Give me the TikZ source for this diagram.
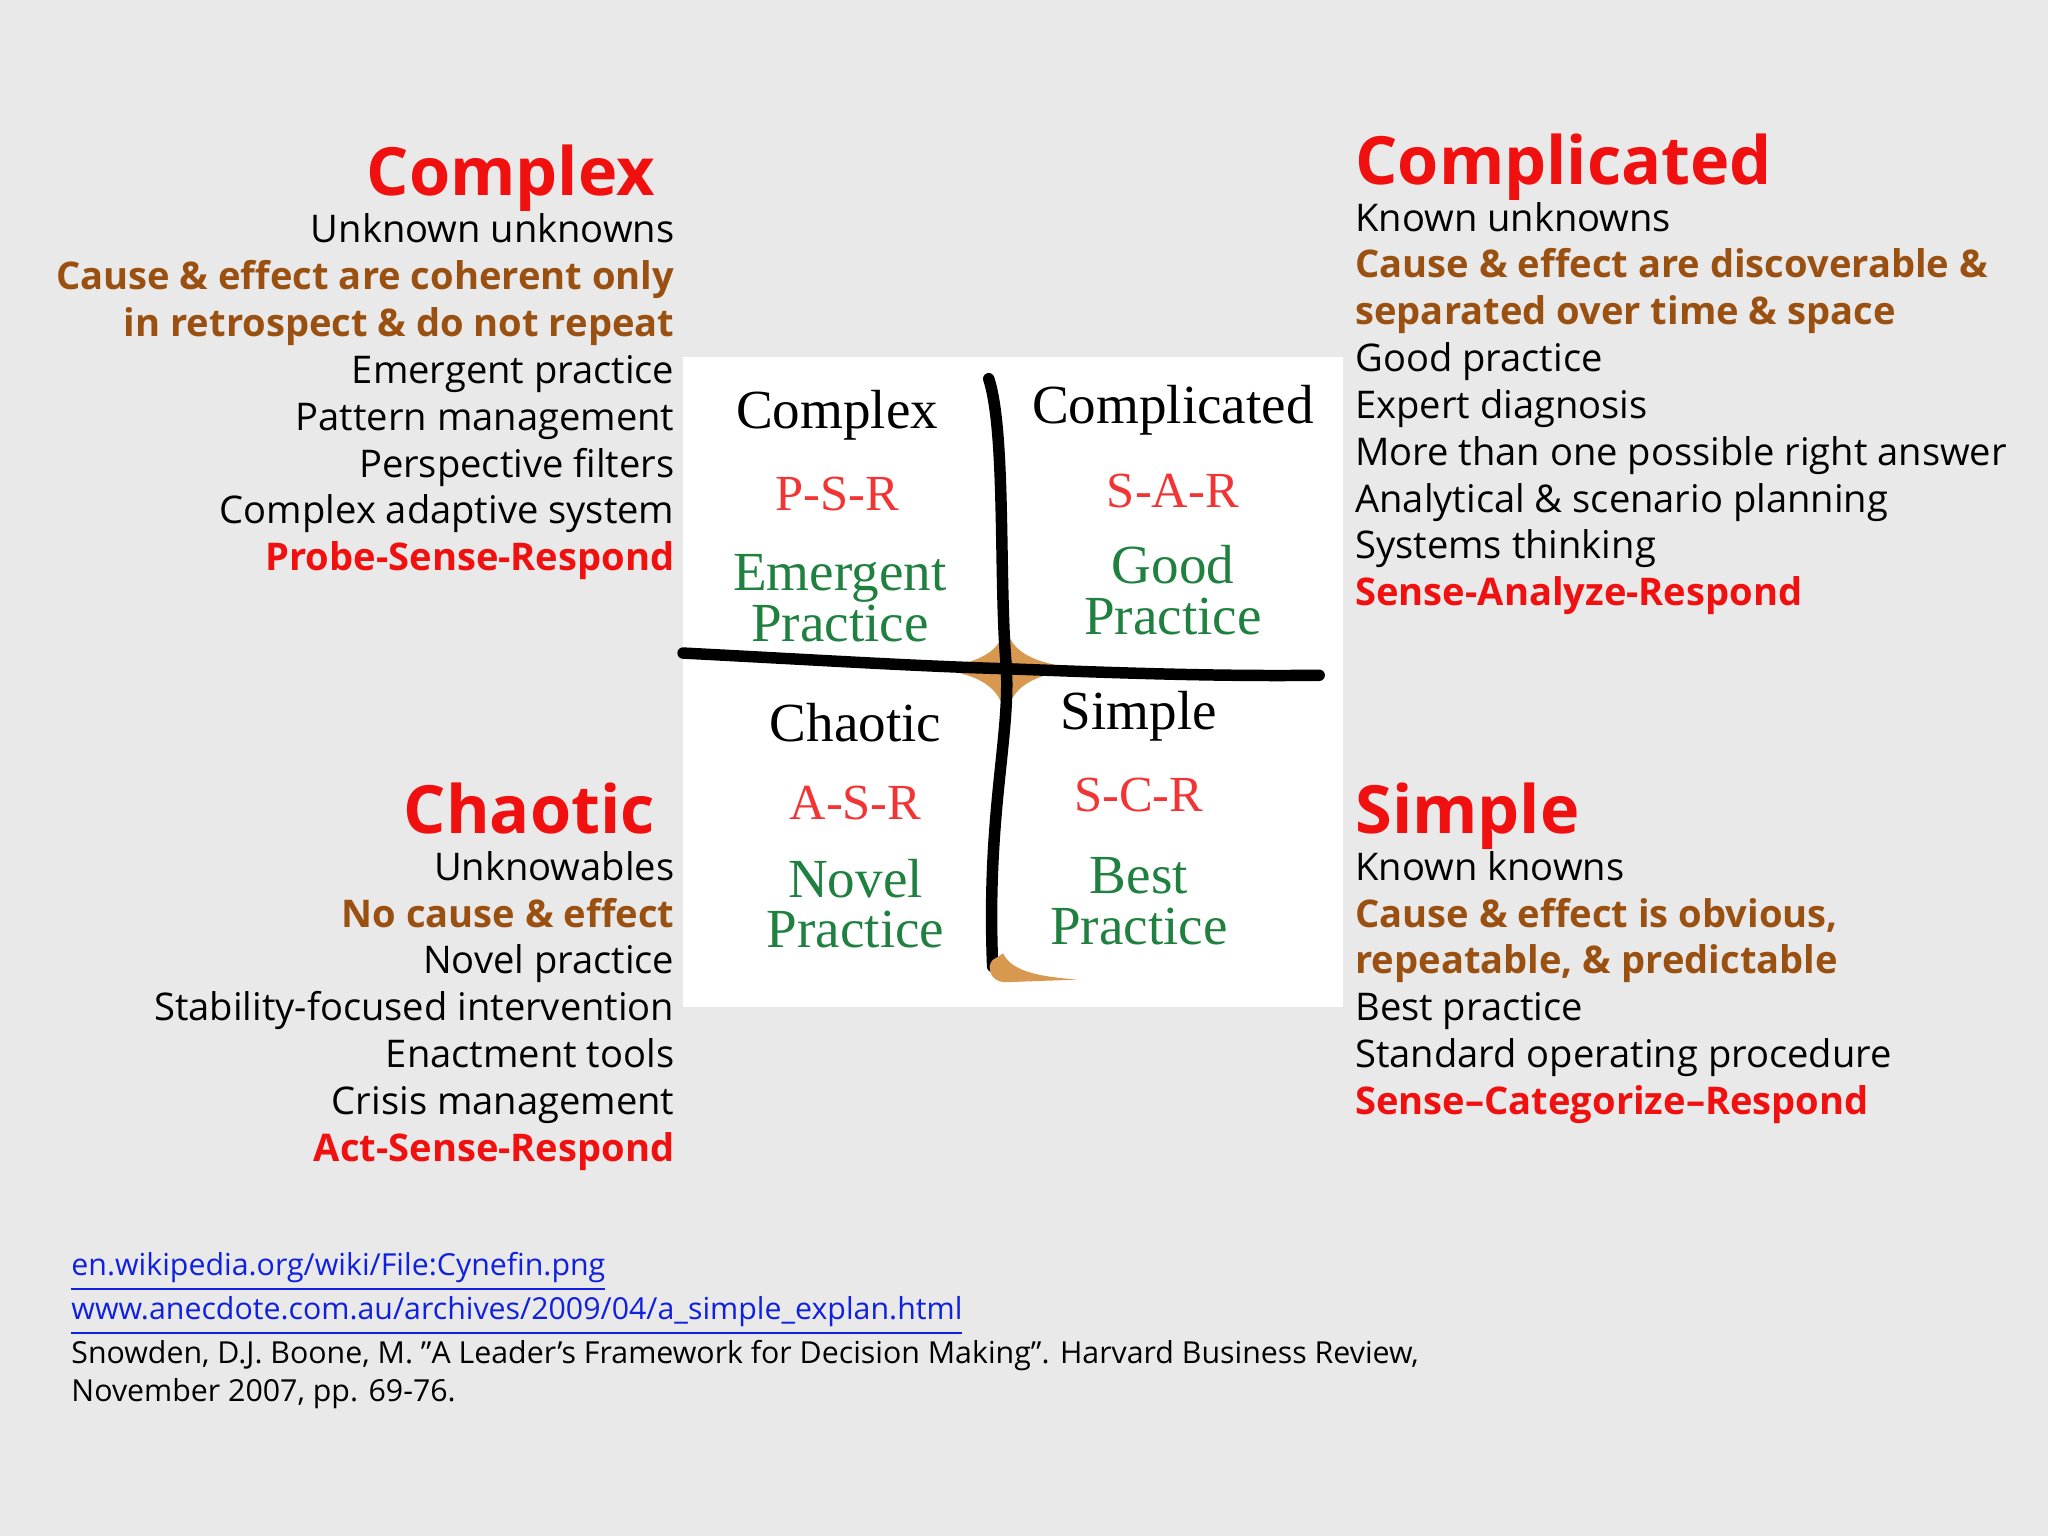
\documentclass[tikz,border=0pt]{standalone}
\usepackage{fontspec}
\setmainfont{Open Sans}
\newfontfamily\hand{Liberation Serif}
\definecolor{bg}{HTML}{E9E9E9}
\definecolor{hred}{HTML}{F01010}
\definecolor{brn}{HTML}{9A5010}
\definecolor{grn}{HTML}{208040}
\definecolor{lnk}{HTML}{1020E0}
\definecolor{orn}{HTML}{D89850}
\tikzset{
 ltxt/.style={anchor=north east,align=right,font=\fontsize{8.3}{10.2}\selectfont,inner sep=0},
 rtxt/.style={anchor=north west,align=left,font=\fontsize{8.3}{10.2}\selectfont,inner sep=0},
 head/.style={text=hred,font=\fontsize{14.5}{16}\selectfont\bfseries,inner sep=0},
 dom/.style={font=\hand\fontsize{12}{12}\selectfont,align=center},
 abbr/.style={font=\hand\fontsize{11}{11}\selectfont,text=hred!85},
 prac/.style={font=\hand\fontsize{12}{11}\selectfont,align=center,text=grn},
}
\begin{document}
\begin{tikzpicture}[x=0.01cm,y=-0.01cm]
\fill[bg] (0,0) rectangle (1568,1176);
\useasboundingbox (0,0) rectangle (1568,1176);
% center picture
\fill[white] (523,273) rectangle (1028,771);
\fill[orn] (770,480) .. controls (775,500) and (790,507) .. (825,512) .. controls (790,517) and (775,525) .. (770,548) .. controls (765,525) and (750,517) .. (718,512) .. controls (750,507) and (765,500) .. (770,480) -- cycle;
\draw[line width=2.5pt,line cap=round] (757,290) .. controls (770,330) and (765,440) .. (770,505) .. controls (775,560) and (755,620) .. (760,740);
\draw[line width=2.5pt,line cap=round] (523,500) .. controls (620,505) and (700,510) .. (770,512) .. controls (850,515) and (930,518) .. (1010,517);
\fill[orn] (760,735) .. controls (755,740) and (758,752) .. (770,752) -- (825,750) .. controls (800,748) and (775,745) .. (768,730) -- cycle;
\node[dom] (dcx) at (641,318) {Complex};
\node[abbr] (acx) at (641,378) {P-S-R};
\node[prac] (pcx) at (643,458) {Emergent\\Practice};
\node[dom] (dcd) at (898,314) {Complicated};
\node[abbr] (acd) at (898,376) {S-A-R};
\node[prac] (pcd) at (898,452) {Good\\Practice};
\node[dom] (dch) at (655,553) {Chaotic};
\node[abbr] (ach) at (655,615) {A-S-R};
\node[prac] (pch) at (655,692) {Novel\\Practice};
\node[dom] (dsi) at (872,548) {Simple};
\node[abbr] (asi) at (872,609) {S-C-R};
\node[prac] (psi) at (872,690) {Best\\Practice};
% Complex
\node[head,anchor=base east] (hcx) at (502,150) {Complex};
\node[ltxt] (tcx) at (517,163) {Unknown unknowns\\
\textcolor{brn}{\textbf{Cause \& effect are coherent only}}\\
\textcolor{brn}{\textbf{in retrospect \& do not repeat}}\hspace*{7pt}\\
Emergent practice\\ Pattern management\\ Perspective filters\hspace*{3pt}\\ Complex adaptive system\\
\textcolor{hred}{\textbf{Probe-Sense-Respond}}};
% Complicated
\node[head,anchor=base west] (hcd) at (1037,141) {Complicated};
\node[rtxt] (tcd) at (1037,154) {Known unknowns\\
\textcolor{brn}{\textbf{Cause \& effect are discoverable \&}}\\
\textcolor{brn}{\textbf{separated over time \& space}}\\
Good practice\\ Expert diagnosis\\ More than one possible right answer\\ Analytical \& scenario planning\\ Systems thinking\\
\textcolor{hred}{\textbf{Sense-Analyze-Respond}}};
% Chaotic
\node[head,anchor=base east] (hch) at (502,638) {Chaotic};
\node[ltxt] (tch) at (517,651) {Unknowables\\
\textcolor{brn}{\textbf{No cause \& effect}}\\
Novel practice\\ Stability-focused intervention\\ Enactment tools\\ Crisis management\\
\textcolor{hred}{\textbf{Act-Sense-Respond}}};
% Simple
\node[head,anchor=base west] (hsi) at (1037,638) {Simple};
\node[rtxt] (tsi) at (1037,651) {Known knowns\\
\textcolor{brn}{\textbf{Cause \& effect is obvious,}}\\
\textcolor{brn}{\textbf{repeatable, \& predictable}}\\
Best practice\\ Standard operating procedure\\
\textcolor{hred}{\textbf{Sense–Categorize–Respond}}};
% refs
\node[anchor=north west,align=left,inner sep=0,font=\fontsize{6.6}{8.2}\selectfont] (refs) at (54,958) {%
\textcolor{lnk}{\underline{en.wikipedia.org/wiki/File:Cynefin.png}}\\
\textcolor{lnk}{\underline{www.anecdote.com.au/archives/2009/04/a\_simple\_explan.html}}\\
Snowden, D.J. Boone, M. "A Leader's Framework for Decision Making". Harvard Business Review,\\
November 2007, pp. 69-76.};
\end{tikzpicture}
\end{document}
